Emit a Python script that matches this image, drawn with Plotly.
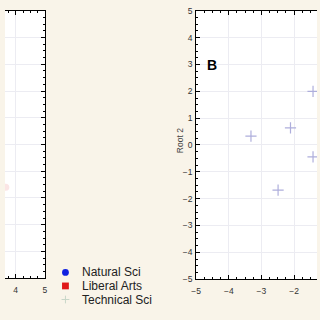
import plotly.graph_objects as go

# Data
a_x = [3.66]
a_y = [-1.6]
b_x = [-1.42, -2.11, -3.32, -1.42, -2.49]
b_y = [2.0, 0.64, 0.33, -0.44, -1.68]
legend_labels = ["Natural Sci", "Liberal Arts", "Technical Sci"]
ticks_vals = [-5, -4, -3, -2, -1, 0, 1, 2, 3, 4, 5]

BG = "rgb(249,244,233)"
W = H = 320
FONT = "Liberation Sans, Arial"

fig = go.Figure()
fig.add_trace(go.Scatter(x=a_x, y=a_y, mode="markers", xaxis="x", yaxis="y",
                         marker=dict(symbol="circle", size=7, color="rgba(240,150,150,0.25)"),
                         showlegend=False))
fig.add_trace(go.Scatter(x=b_x, y=b_y, mode="markers", xaxis="x2", yaxis="y2",
                         marker=dict(symbol="cross-thin", size=8,
                                     line=dict(color="#aeaedc", width=1.2)),
                         showlegend=False))

tickfont = dict(family=FONT, size=8.5, color="#333")
common = dict(showline=True, linecolor="black", linewidth=1, ticks="inside", ticklen=4,
              tickcolor="black", tickvals=ticks_vals, showgrid=True, gridcolor="#ececf2",
              gridwidth=1, zeroline=False, tickfont=tickfont,
              minor=dict(ticks="inside", ticklen=2, dtick=0.25, tickcolor="black", showgrid=False))

fig.update_layout(
    width=W, height=H, margin=dict(l=0, r=0, t=0, b=0),
    paper_bgcolor=BG, plot_bgcolor="white", showlegend=False,
    xaxis=dict(domain=[0, 41/320], range=[5 - 41/30, 5], mirror="ticks", anchor="y",
               ticklabelstandoff=4, **common),
    yaxis=dict(domain=[1 - 282/320, 1 - 6/320], range=[-5, 5], side="right", anchor="x",
               showticklabels=False, **common),
    xaxis2=dict(domain=[196/320, 1], range=[-5, -5 + (320 - 196)/33.5], mirror="ticks",
                anchor="y2", ticklabelstandoff=4, **common),
    yaxis2=dict(domain=[1 - 283/320, 1 - 6/320], range=[-5, 5], anchor="x2",
                ticklabelstandoff=1, **common),
)

# Axis title and panel label
fig.add_annotation(text="Root 2", x=179/W, y=1 - 140/H, xref="paper", yref="paper",
                   textangle=-90, showarrow=False,
                   font=dict(family=FONT, size=8.5, color="#444"))
fig.add_annotation(text="<b>B</b>", x=219/W, y=1 - 52/H, xref="paper", yref="paper",
                   showarrow=False, font=dict(family=FONT, size=14, color="black"))

# Manual legend
ly = [276, 290, 304]
mx = 62
fig.add_shape(type="circle", xref="paper", yref="paper",
              x0=(mx - 3.5)/W, x1=(mx + 3.5)/W, y0=1 - (ly[0] + 3.5)/H, y1=1 - (ly[0] - 3.5)/H,
              fillcolor="#1020e0", line=dict(width=0))
fig.add_shape(type="rect", xref="paper", yref="paper",
              x0=(mx - 3.5)/W, x1=(mx + 3.5)/W, y0=1 - (ly[1] + 3.5)/H, y1=1 - (ly[1] - 3.5)/H,
              fillcolor="#e01818", line=dict(width=0))
fig.add_shape(type="line", xref="paper", yref="paper",
              x0=(mx - 4)/W, x1=(mx + 4)/W, y0=1 - ly[2]/H, y1=1 - ly[2]/H,
              line=dict(color="#c8d6c8", width=1))
fig.add_shape(type="line", xref="paper", yref="paper",
              x0=mx/W, x1=mx/W, y0=1 - (ly[2] + 4)/H, y1=1 - (ly[2] - 4)/H,
              line=dict(color="#c8d6c8", width=1))
for lab, yy in zip(legend_labels, ly):
    fig.add_annotation(text=lab, x=78/W, y=1 - yy/H, xref="paper", yref="paper",
                       xanchor="left", yanchor="middle", showarrow=False, borderpad=0,
                       font=dict(family=FONT, size=12, color="#222"))

fig.write_html("out.html")
